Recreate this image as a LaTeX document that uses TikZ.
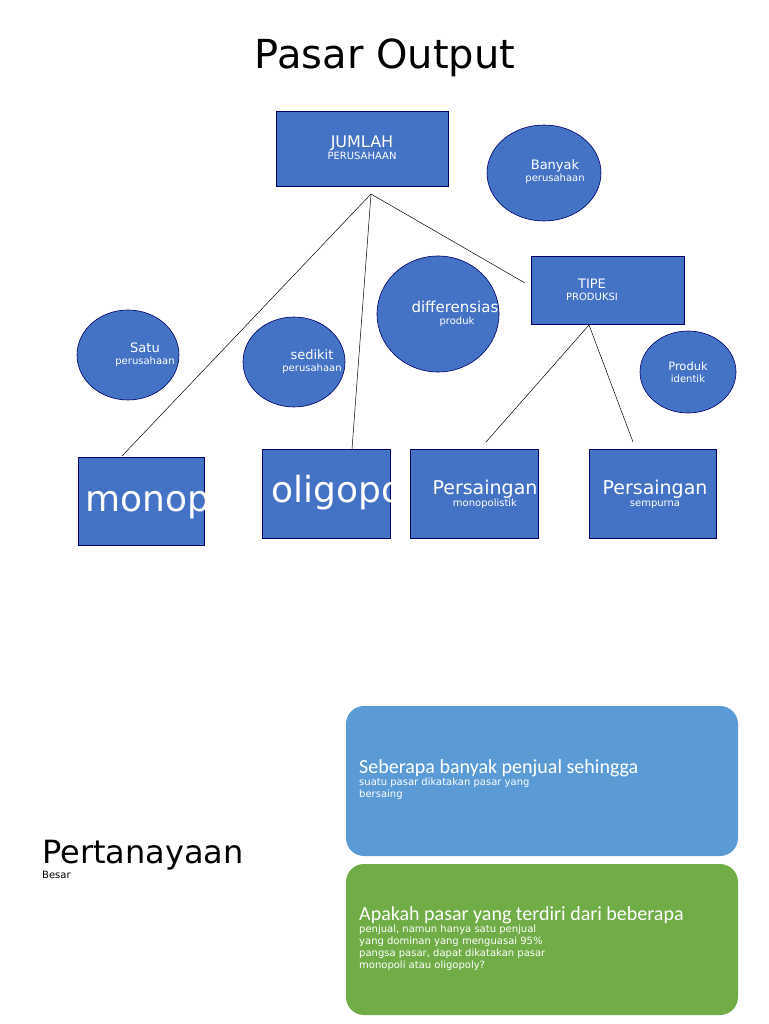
\documentclass[tikz,border=0pt]{standalone}
\usepackage{fontspec}
\setmainfont{DejaVu Sans}
\newfontfamily\carlitofont{Carlito}
\begin{document}
\begin{tikzpicture}[x=1pt,y=-1pt,
  bx/.style={draw=blue!40!black,fill=boxblue,line width=0.6pt},
  el/.style={draw=blue!40!black,fill=boxblue,line width=0.6pt},
  wt/.style={text=white,align=center,inner sep=0pt},
  ln/.style={draw=black,line width=0.5pt}]
\definecolor{boxblue}{HTML}{4472C4}
\definecolor{lblue}{HTML}{5B9BD5}
\definecolor{lgreen}{HTML}{70AD47}
\useasboundingbox (0,0) rectangle (768,1024);
\node (title) at (385,58) {\fontsize{40}{48}\selectfont Pasar Output};
% boxes
\draw[bx] (276,111) rectangle (448,186);
\node[wt] (jumlah) at (362,148) {\fontsize{16}{22}\selectfont JUMLAH\\PERUSAHAAN};
\draw[bx] (531,256) rectangle (684,324);
\node[wt] (tipe) at (592,290) {\fontsize{13}{19}\selectfont TIPE\\PRODUKSI};
% ellipses
\draw[el] (544,173) ellipse [x radius=57, y radius=48];
\node[wt] (banyak) at (555,172) {\fontsize{13}{19}\selectfont Banyak\\perusahaan};
\draw[el] (438,314) ellipse [x radius=61, y radius=58];
\begin{scope}\clip (438,314) ellipse [x radius=61, y radius=58];
\node[wt] (diff) at (457,314) {\fontsize{15}{24}\selectfont differensiasi\\produk};
\end{scope}
\draw[el] (128,355) ellipse [x radius=51, y radius=45];
\begin{scope}\clip (128,355) ellipse [x radius=51, y radius=45];
\node[wt] (satu) at (145,355) {\fontsize{13}{19}\selectfont Satu\\perusahaan};
\end{scope}
\draw[el] (294,362) ellipse [x radius=51, y radius=45];
\begin{scope}\clip (294,362) ellipse [x radius=51, y radius=45];
\node[wt] (sedikit) at (312,362) {\fontsize{13}{19}\selectfont sedikit\\perusahaan};
\end{scope}
\draw[el] (688,372) ellipse [x radius=48, y radius=41];
\node[wt] (identik) at (688,372) {\fontsize{11.5}{16}\selectfont Produk\\identik};
% bottom boxes
\draw[bx] (78,457) rectangle (204,545);
\begin{scope}\clip (78,457) rectangle (204,545);
\node[wt,anchor=west] (mono) at (85,502) {\fontsize{36}{40}\selectfont monopoli};
\end{scope}
\draw[bx] (262,449) rectangle (390,538);
\node[wt,anchor=west] (oligo) at (271,493) {\fontsize{36}{40}\selectfont oligopoli};
\draw[bx] (410,449) rectangle (538,538);
\begin{scope}\clip (410,449) rectangle (538,538);
\node[wt] (pmono) at (485,494) {\fontsize{19}{26}\selectfont Persaingan\\monopolistik};
\end{scope}
\draw[bx] (589,449) rectangle (716,538);
\node[wt] (psemp) at (655,494) {\fontsize{19}{26}\selectfont Persaingan\\sempurna};
% connectors
\coordinate (j0) at (371,194);
\coordinate (m0) at (122,456);
\coordinate (o0) at (352,449);
\coordinate (t0) at (525,283);
\coordinate (t1) at (589,325);
\coordinate (p0) at (486,442);
\coordinate (s0) at (633,442);
\draw[ln] (j0) -- (m0); \draw[ln] (j0) -- (o0); \draw[ln] (j0) -- (t0);
\draw[ln] (t1) -- (p0); \draw[ln] (t1) -- (s0);
% questions
\node[anchor=west,align=left,inner sep=0pt] (pb) at (42,859) {\fontsize{32}{38}\selectfont Pertanayaan\\Besar};
\draw[fill=lblue,draw=none,rounded corners=18] (346,706) rectangle (738,856);
\node[anchor=west,align=left,text=white,inner sep=0pt] (q1) at (359,780) {\carlitofont\fontsize{20}{24.5}\selectfont Seberapa banyak penjual sehingga\\suatu pasar dikatakan pasar yang\\bersaing};
\draw[fill=lgreen,draw=none,rounded corners=18] (346,864) rectangle (738,1015);
\node[anchor=west,align=left,text=white,inner sep=0pt] (q2) at (359,939) {\carlitofont\fontsize{20}{24.3}\selectfont Apakah pasar yang terdiri dari beberapa\\penjual, namun hanya satu penjual\\yang dominan yang menguasai 95\%\\pangsa pasar, dapat dikatakan pasar\\monopoli atau oligopoly?};
\end{tikzpicture}
\end{document}
